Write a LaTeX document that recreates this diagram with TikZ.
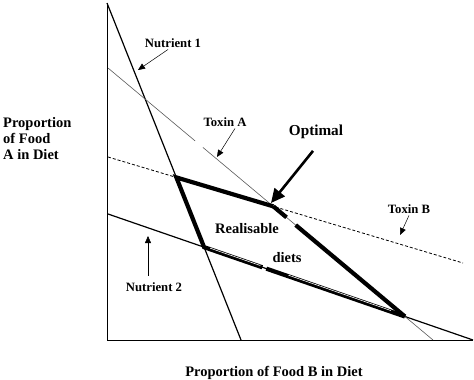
\documentclass[tikz,border=0pt]{standalone}
\usepackage{fontspec}
\setmainfont{Liberation Serif}
\usetikzlibrary{arrows.meta,calc}

\begin{document}
\begin{tikzpicture}[x=1pt, y=-1pt,
  lbl/.style={font=\fontsize{12.7}{14}\selectfont\bfseries, inner sep=0pt, outer sep=2pt},
  big/.style={font=\fontsize{14.5}{16}\selectfont\bfseries, inner sep=0pt, align=left},
  axis/.style={line width=0.8pt},
  nutr/.style={line width=1.2pt},
  toxa/.style={line width=0.6pt, black!65},
  toxb/.style={line width=0.8pt, dash pattern=on 3pt off 2pt},
  rim/.style={line width=4.2pt, line cap=butt, line join=miter},
  arr/.style={-{Triangle[length=7pt,width=6pt]}, line width=0.5pt},
  bigarr/.style={-{Triangle[length=14pt,width=13pt]}, line width=2.6pt}]
\useasboundingbox (0,0) rectangle (474,380);
% axes
\coordinate (o) at (107,340);
\coordinate (ytop) at (107,3);
\coordinate (xend) at (473,340);
\draw[axis] (ytop) -- (o) -- (xend);
% constraint lines
\coordinate (n1a) at (107,3);   \coordinate (n1b) at (241,340);
\coordinate (n2a) at (108,214); \coordinate (n2b) at (473,340);
\coordinate (taa) at (108,68);  \coordinate (tab) at (433,340);
\coordinate (tba) at (108,157); \coordinate (tbb) at (463,263);
\draw[nutr] (n1a) -- (n1b);
\draw[nutr] (n2a) -- (n2b);
\draw[toxa] (taa) -- ($(taa)!0.268!(tab)$);
\draw[toxa] ($(taa)!0.292!(tab)$) -- (tab);
\draw[toxb] (tba) -- (tbb);
% corners of the realisable region
\coordinate (A) at (intersection of n1a--n1b and tba--tbb);
\coordinate (B) at (intersection of taa--tab and tba--tbb);
\coordinate (C) at (intersection of n1a--n1b and n2a--n2b);
\coordinate (D) at (intersection of taa--tab and n2a--n2b);
\draw[rim] (B) -- (A) -- (C) -- ($(C)!0.29!(D)$);
\draw[rim] ($(C)!0.31!(D)$) -- (D);
\draw[rim] (B) -- ($(B)!0.10!(D)$);
\draw[rim] ($(B)!0.17!(D)$) -- (D);
\draw[white, line width=0.6pt] ([yshift=1.1pt]$(C)!0.03!(D)$) -- ([yshift=1.1pt]$(C)!0.28!(D)$);
\draw[white, line width=0.6pt] ([yshift=1.1pt]$(C)!0.42!(D)$) -- ([yshift=1.1pt]$(C)!0.93!(D)$);
% labels
\node[lbl] (lnut1) at (173,43) {Nutrient 1};
\node[lbl] (ltoxa) at (225,122) {Toxin A};
\node[lbl, font=\fontsize{15.2}{17}\selectfont\bfseries] (lopt) at (316,132) {Optimal};
\node[lbl] (ltoxb) at (409,209) {Toxin B};
\node[lbl] (lnut2) at (154,287) {Nutrient 2};
\node[big] (lreal) at (247,229) {Realisable};
\node[big] (ldiet) at (287,258) {diets};
\node[big, anchor=west] (lyax) at (3,139) {Proportion\\of Food\\A in Diet};
\node[big] (lxax) at (274,373) {Proportion of Food B in Diet};
% pointers
\coordinate (n1tip) at (138,70);
\coordinate (tatip) at (217,157);
\coordinate (tbtip) at (400,235);
\coordinate (n2tip) at (148,236);
\coordinate (opttip) at (271,203);
\draw[arr] ([xshift=-5pt]lnut1.south) -- (n1tip);
\draw[arr] ([xshift=10pt]ltoxa.south) -- (tatip);
\draw[arr] (ltoxb.south) -- (tbtip);
\draw[arr] ([xshift=-6pt,yshift=5pt]lnut2.north) -- (n2tip);
\draw[bigarr] ([xshift=-3pt,yshift=-10pt]lopt.south) -- (opttip);
\end{tikzpicture}
\end{document}
